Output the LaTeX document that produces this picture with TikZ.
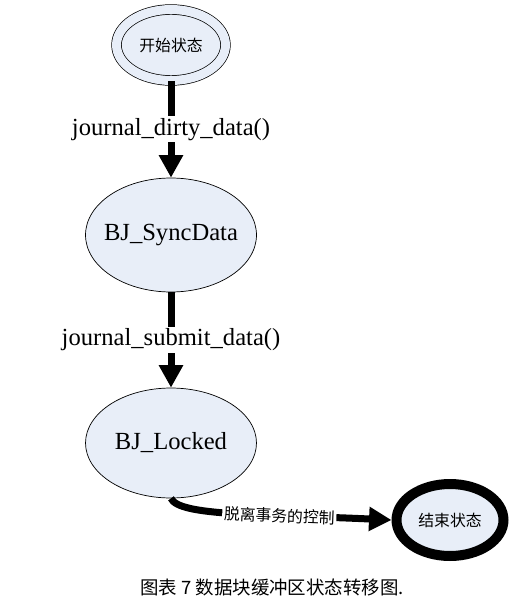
\documentclass[tikz,border=0pt]{standalone}
\usepackage{fontspec}
\setmainfont{Liberation Serif}
\newfontfamily\cjk{Noto Sans CJK SC}
\usetikzlibrary{arrows.meta,shapes.geometric}

\definecolor{estadofill}{RGB}{232,238,248}

\begin{document}
\begin{tikzpicture}[x=0.02cm, y=-0.02cm,
        estado/.style={draw, ellipse, fill=estadofill, inner sep=0pt, thin, font=\fontsize{14}{16}\selectfont},
        flecha/.style={-{Triangle[length=0.45cm,width=0.46cm]}, line width=0.14cm},
        etiqueta/.style={fill=white, inner sep=1pt, font=\fontsize{14}{16}\selectfont}
    ]
    \useasboundingbox (0,0) rectangle (516,611);
    % Estados
    \node[estado, double=estadofill, double distance=0.18cm, minimum width=2.18cm, minimum height=1.42cm, font=\cjk\fontsize{9}{11}\selectfont] (inicio) at (171,45) {开始状态};
    \node[estado, inner xsep=-0.15cm, minimum width=3.42cm, minimum height=2.28cm] (syncData) at (171,235) {BJ\_SyncData};
    \node[estado, inner xsep=-0.15cm, minimum width=3.42cm, minimum height=2.2cm] (locked) at (171,443) {BJ\_Locked};
    \node[estado, line width=0.2cm, minimum width=2.14cm, minimum height=1.44cm, font=\cjk\fontsize{9}{11}\selectfont] (fin) at (450,520) {结束状态};
    % Transiciones
    \draw[flecha] (inicio) -- node[etiqueta] {journal\_dirty\_data()} (syncData);
    \draw[flecha] (syncData) -- node[etiqueta] {journal\_submit\_data()} (locked);
    \draw[flecha] (locked.south) .. controls +(8,18) and +(-130,-6) .. node[etiqueta, sloped, pos=0.67, font=\cjk\fontsize{9}{11}\selectfont] {脱离事务的控制} (fin.west);
    % Titulo
    \node[font=\cjk\fontsize{10.5}{12}\selectfont] (titulo) at (272,587) {图表 7 数据块缓冲区状态转移图.};
\end{tikzpicture}
\end{document}
